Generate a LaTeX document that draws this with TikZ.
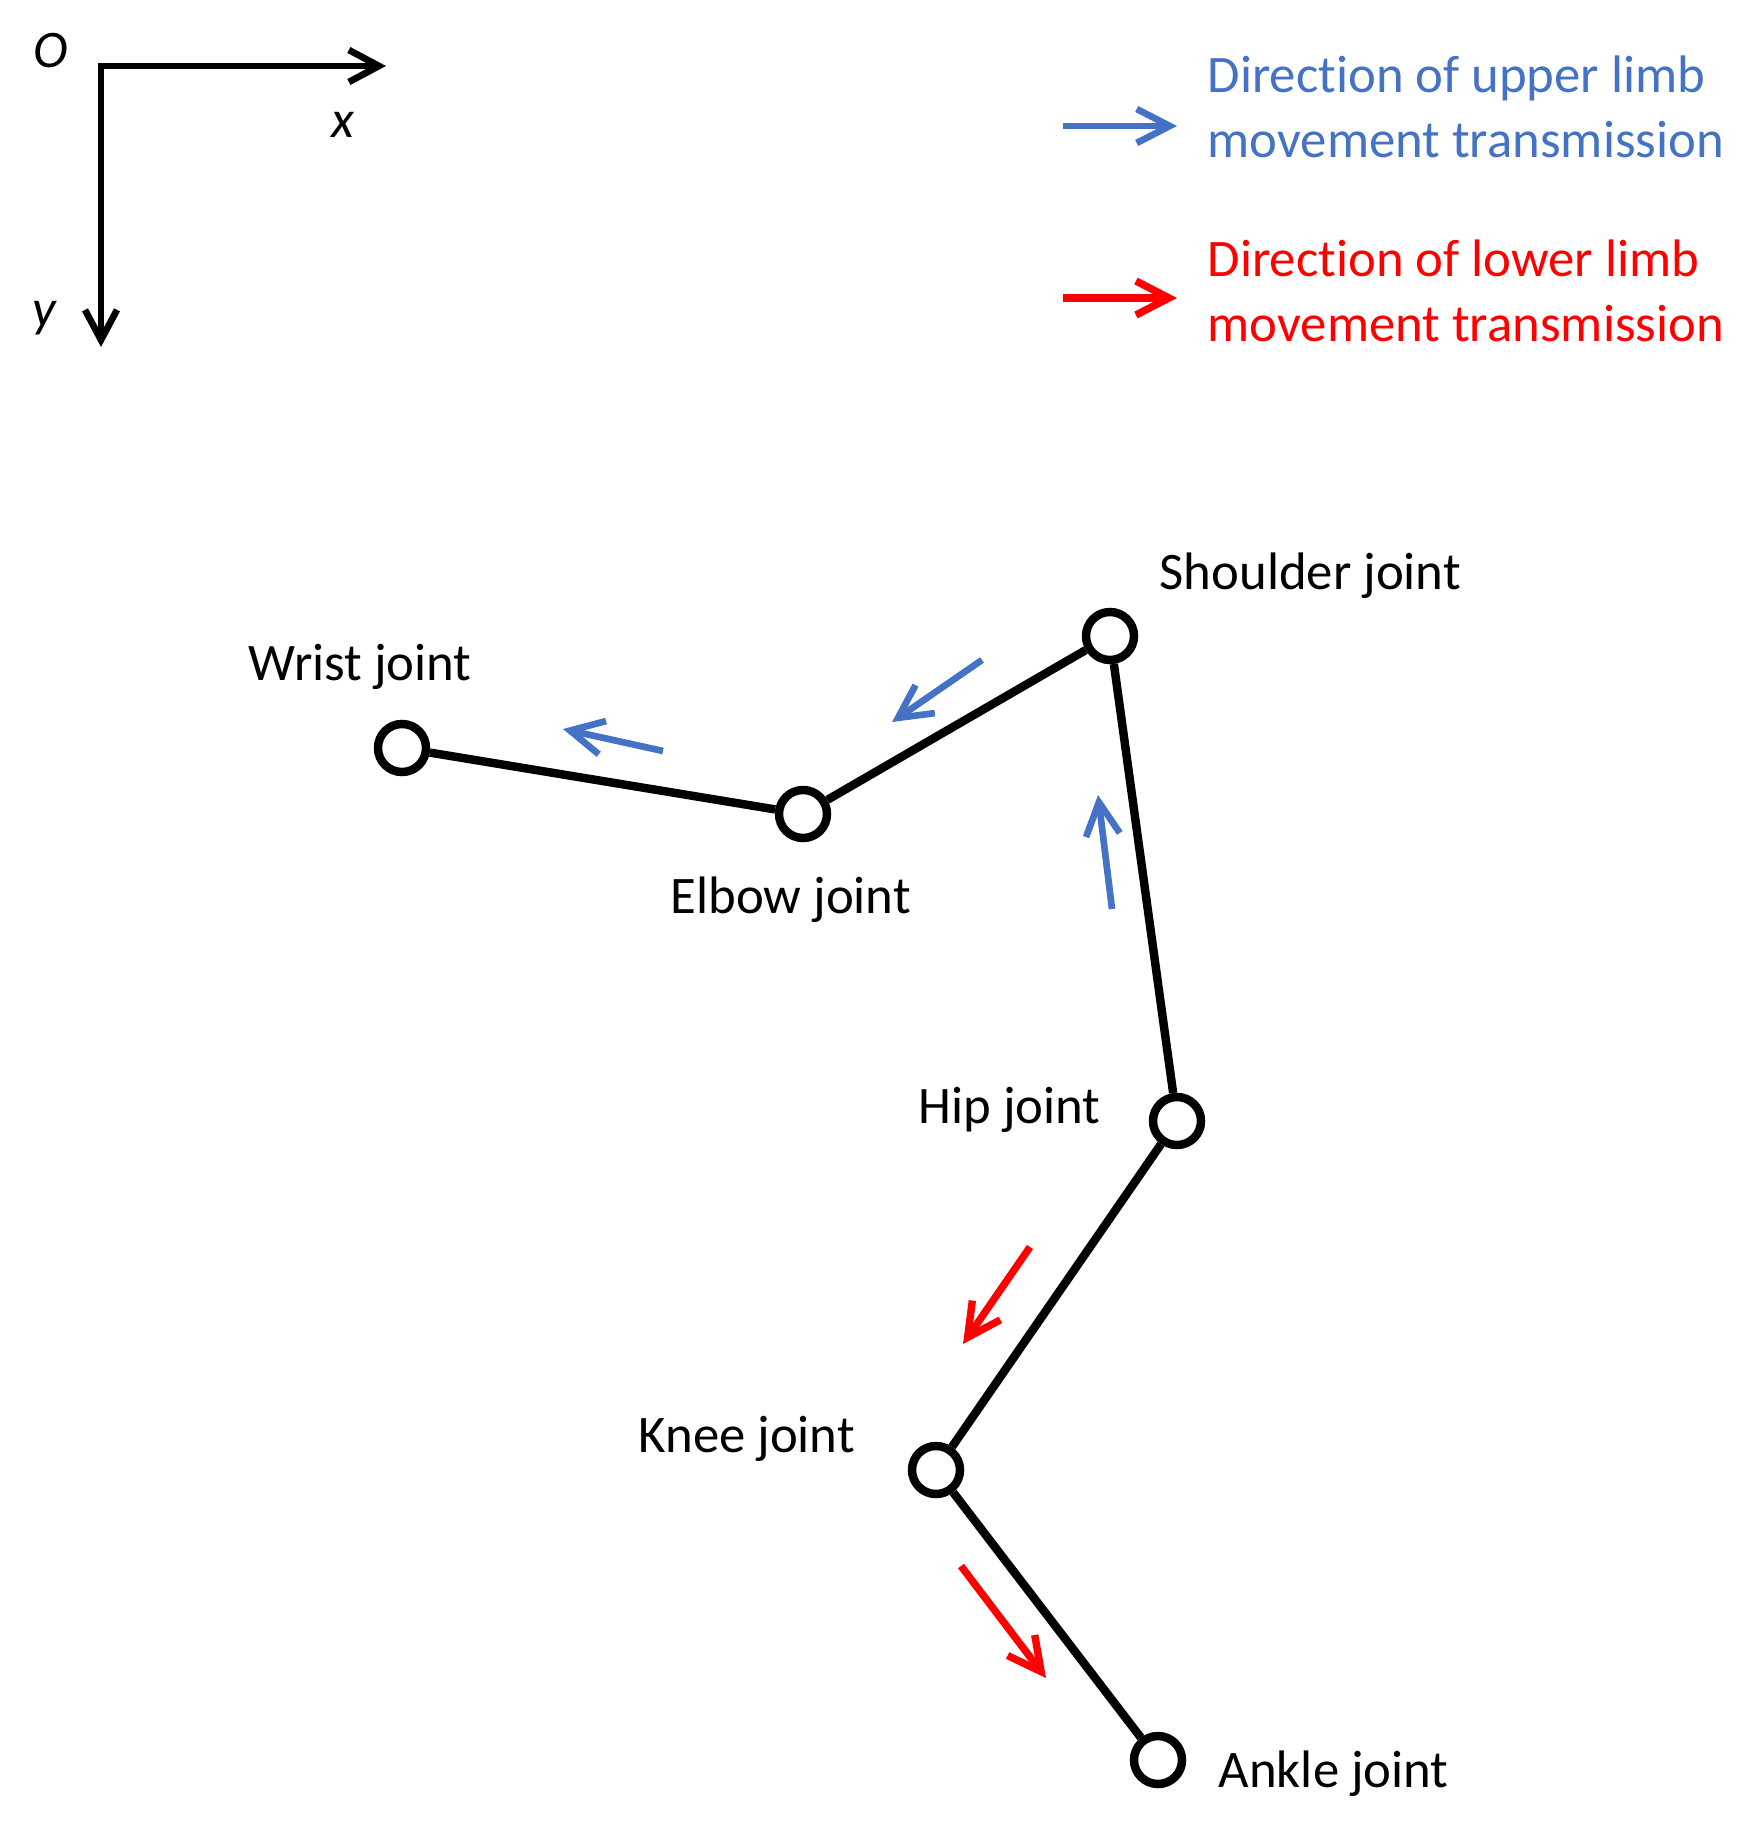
\documentclass[tikz,border=0pt]{standalone}
\usepackage{fontspec}
\setmainfont{Carlito}[Ligatures=NoCommon]
\usetikzlibrary{arrows.meta}
\definecolor{upperblue}{HTML}{4472C4}
\definecolor{lowerred}{HTML}{FF0000}
\tikzset{
    joint/.style={
        circle, draw=black, fill=white,
        line width=2.4pt, minimum size=0.48cm, inner sep=0pt
    },
    link/.style={line width=2.4pt, color=black},
    axis/.style={-{Straight Barb[length=3mm, width=3.2mm]}, line width=1.9pt},
    joint label/.style={
        font=\fontsize{15}{18.5}\selectfont,
        inner sep=0pt, anchor=base west
    },
    axis label/.style={
        font=\fontsize{15}{18.5}\selectfont\itshape,
        inner sep=0pt, anchor=base
    },
    legend text/.style={
        font=\fontsize{15}{18.5}\selectfont,
        inner sep=0pt, anchor=base west, align=left
    },
    upper arr/.style={-{Straight Barb[length=3.3mm, width=3.4mm]}, line width=1.9pt, color=upperblue},
    lower arr/.style={-{Straight Barb[length=3.3mm, width=3.4mm]}, line width=2.1pt, color=lowerred}
}

\begin{document}
\begin{tikzpicture}[x=0.01cm, y=-0.01cm]

    \useasboundingbox (0,0) rectangle (1738,1822);

    % --- Coordinate frame ---
    \coordinate (origin) at (101,66);
    \coordinate (xend) at (386,66);
    \coordinate (yend) at (101,347);
    \draw[axis] (origin) -- (xend);
    \draw[axis] ([yshift=0.95pt]origin) -- (yend);
    \node[axis label] (olab) at (51,68) {O};
    \node[axis label] (xlab) at (343,138) {x};
    \node[axis label] (ylab) at (44,327) {y};

    % --- Legend (base = last line) ---
    \coordinate (leg_up_a) at (1063,126);
    \coordinate (leg_up_b) at (1177,126);
    \coordinate (leg_lo_a) at (1063,298);
    \coordinate (leg_lo_b) at (1177,298);
    \draw[upper arr] (leg_up_a) -- (leg_up_b);
    \draw[lower arr] (leg_lo_a) -- (leg_lo_b);
    \node[legend text, text=upperblue] (leg_up) at (1207,158)
        {Direction of upper limb\\movement transmission};
    \node[legend text, text=lowerred] (leg_lo) at (1207,342)
        {Direction of lower limb\\movement transmission};

    % --- Joints ---
    \node[joint] (shoulder) at (1110,636) {};
    \node[joint] (wrist)    at (402,748) {};
    \node[joint] (elbow)    at (803,814) {};
    \node[joint] (hip)      at (1177,1121) {};
    \node[joint] (knee)     at (936,1470) {};
    \node[joint] (ankle)    at (1158,1760) {};

    % --- Links ---
    \draw[link] (wrist) -- (elbow);
    \draw[link] (elbow) -- (shoulder);
    \draw[link] (shoulder) -- (hip);
    \draw[link] (hip) -- (knee);
    \draw[link] (knee) -- (ankle);

    % --- Joint labels ---
    \node[joint label] (shoulder_lab) at (1159,589)  {Shoulder joint};
    \node[joint label] (wrist_lab)    at (248,680)   {Wrist joint};
    \node[joint label] (elbow_lab)    at (670,913)   {Elbow joint};
    \node[joint label] (hip_lab)      at (918,1123)  {Hip joint};
    \node[joint label] (knee_lab)     at (638,1452)  {Knee joint};
    \node[joint label] (ankle_lab)    at (1218,1787) {Ankle joint};

    % --- Transmission directions ---
    \draw[upper arr] (1112,909) -- (1098,795);
    \draw[upper arr] (982,660) -- (892,722);
    \draw[upper arr] (663,751) -- (563,729);
    \draw[lower arr] (1030,1247) -- (963,1344);
    \draw[lower arr] (961,1566) -- (1046,1678);

\end{tikzpicture}
\end{document}
